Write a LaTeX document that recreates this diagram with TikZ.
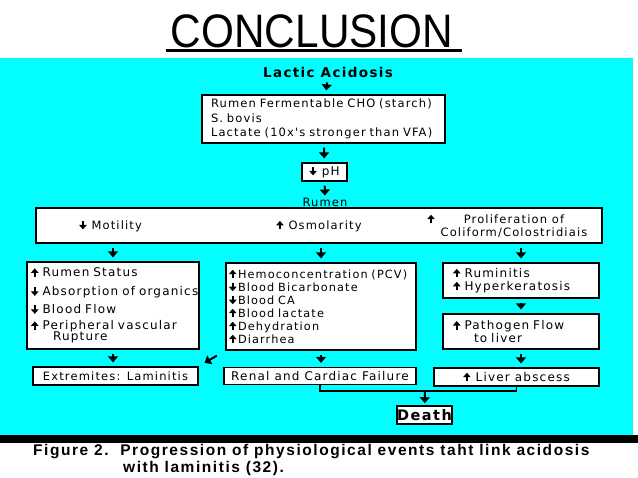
\documentclass[tikz,border=0pt]{standalone}
\usepackage{fontspec}
\setmainfont{Liberation Sans}
\newfontfamily\boxfont{DejaVu Sans}[LetterSpace=10]
\newfontfamily\capfont{Liberation Sans}[LetterSpace=10]
\usetikzlibrary{arrows.meta, positioning}
\definecolor{aqua}{RGB}{0,255,255}

% small arrows used inside the texts
\newcommand{\upmark}{\tikz[baseline=0pt]\draw[line width=1.5pt, -{Triangle[width=7.5pt,length=4.5pt]}] (0pt,0pt) -- (0pt,8.5pt);}
\newcommand{\dnmark}{\tikz[baseline=0pt]\draw[line width=1.5pt, -{Triangle[width=7.5pt,length=4.5pt]}] (0pt,8.5pt) -- (0pt,0pt);}

\begin{document}
\begin{tikzpicture}[x=1pt, y=-1pt,
            box/.style={rectangle, draw=black, line width=1.2pt, fill=white, inner ysep=0pt, font=\boxfont\fontsize{12}{14}\selectfont},
            txt/.style={inner sep=0pt, font=\boxfont\fontsize{11.5}{14}\selectfont},
            arrow/.style={-{Triangle[width=10pt,length=6pt]}, line width=2pt, shorten >=4pt, shorten <=4pt}
        ]

% Background
            \useasboundingbox (0,0) rectangle (638,478);
            \fill[white] (0,0) rectangle (638,478);
            \fill[aqua] (0,58) rectangle (633,435);
            \fill[black] (0,435) rectangle (638,443);

% Title
            \node[anchor=base, inner sep=0pt, font=\fontsize{47}{47}\selectfont] (title) at (312,48) {\scalebox{0.9}[1]{CONCLUSION}};
            \draw[line width=3pt] ([shift={(-5pt,-3pt)}]title.base west) -- ([shift={(9pt,-3pt)}]title.base east);

% Top of the chain
            \node[inner sep=1pt, font=\boxfont\bfseries\fontsize{13.5}{15}\selectfont] (lactic) at (328,72) {Lactic Acidosis};
            \node[box, text width=225pt, inner xsep=9pt, minimum height=48pt, align=left, font=\boxfont\fontsize{11.5}{14.5}\selectfont] (cho) at (323.5,119) {Rumen Fermentable CHO (starch)\\ S. bovis\\ Lactate (10x's stronger than VFA)};
            \node[box, minimum width=45pt, minimum height=18pt, inner xsep=0pt] (ph) at (324.5,172) {\dnmark~pH};
            \node[txt] (rumenlbl) at (325,202) {Rumen};

% Rumen box
            \node[box, minimum width=566pt, minimum height=35pt] (rumen) at (319,225.5) {};
            \node[txt, anchor=west] (motility) at (79,226) {\dnmark~Motility};
            \node[txt, anchor=west] (osmo) at (276,226) {\upmark~Osmolarity};
            \node[txt] (prolifmark) at (431,219) {\upmark};
            \node[txt, align=center] (prolif) at (514,226.5) {Proliferation of\\[-1pt] Coliform/Colostridiais};

% Middle row
            \node[box, text width=164pt, inner xsep=4pt, minimum height=87pt, align=left] (status) at (113,305.5) {\upmark~Rumen Status\\[5pt] \dnmark~Absorption of organics\\[4pt] \dnmark~Blood Flow\\[2pt] \upmark~Peripheral vascular\\[-3pt] \hspace*{22pt}Rupture};
            \node[box, text width=184pt, inner xsep=3pt, minimum height=87pt, align=left, font=\boxfont\fontsize{11.3}{13}\selectfont] (blood) at (321,306.5) {\upmark\hspace{1.5pt}Hemoconcentration (PCV)\\ \dnmark\hspace{1.5pt}Blood Bicarbonate\\ \dnmark\hspace{1.5pt}Blood CA\\ \upmark\hspace{1.5pt}Blood lactate\\ \upmark\hspace{1.5pt}Dehydration\\ \upmark\hspace{1.5pt}Diarrhea};
            \node[box, text width=136pt, inner xsep=10pt, minimum height=35pt, align=left, font=\boxfont\fontsize{12}{13}\selectfont] (ruminitis) at (521,280.5) {\upmark~Ruminitis\\ \upmark~Hyperkeratosis};
            \node[box, text width=136pt, inner xsep=10pt, minimum height=35pt, align=left, font=\boxfont\fontsize{12}{13}\selectfont] (pathogen) at (521,331.5) {\upmark~Pathogen Flow\\ \hspace*{21pt}to liver};

% Bottom row
            \node[box, minimum width=165pt, minimum height=18pt, font=\boxfont\fontsize{11.5}{13}\selectfont] (laminitis) at (115.5,376) {Extremites: Laminitis};
            \node[box, minimum width=192pt, minimum height=17pt] (failure) at (320,376) {Renal and Cardiac Failure};
            \node[box, minimum width=165pt, minimum height=18pt] (abscess) at (516.5,377) {\upmark~Liver abscess};
            \node[box, line width=1.6pt, inner xsep=0pt, minimum width=55pt, minimum height=18pt, font=\boxfont\bfseries\fontsize{14.5}{15}\selectfont] (death) at (424.5,415) {Death};
            \coordinate (join) at (425,391);

% Arrows
            \draw[arrow] (lactic) -- (cho);
            \draw[arrow] (cho) -- (ph);
            \draw[arrow, shorten >=2pt] (ph) -- (rumenlbl);
            \draw[arrow] (status.north |- rumen.south) -- (status);
            \draw[arrow] (blood.north |- rumen.south) -- (blood);
            \draw[arrow] (ruminitis.north |- rumen.south) -- (ruminitis);
            \draw[arrow] (ruminitis) -- (pathogen);
            \draw[arrow] (status.south) -- (status.south |- laminitis.north);
            \draw[arrow] (blood.south) -- (blood.south |- failure.north);
            \draw[arrow] (pathogen.south) -- (pathogen.south |- abscess.north);
            \draw[arrow, shorten <=10pt, shorten >=7pt] (blood.south west) -- (laminitis.north east);
            \draw[line width=1.2pt] (failure.south) |- (join) -| (abscess.south);
            \draw[arrow, shorten <=0pt, shorten >=2pt] (join) -- (death);

% Caption
            \node[anchor=base west, inner sep=0pt, font=\capfont\bfseries\fontsize{15.5}{17}\selectfont] (caption) at (33,456) {Figure 2.\ \ Progression of physiological events taht link acidosis};
            \node[anchor=base west, inner sep=0pt, font=\capfont\bfseries\fontsize{15.5}{17}\selectfont] (caption2) at (123,472.5) {with laminitis (32).};

        \end{tikzpicture}
\end{document}
